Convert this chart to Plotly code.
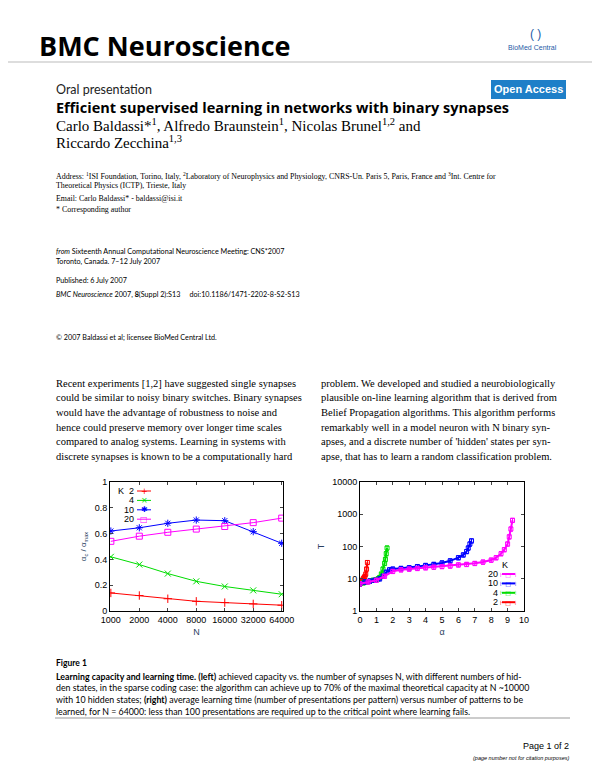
import plotly.graph_objects as go

W, H = 600, 776
OFF = 8  # page body margin in the browser
def X(px): return (px - OFF) / W
def Y(py): return 1 - (py - OFF) / H

# ---- left chart data ----
N_vals = [1000, 2000, 4000, 8000, 16000, 32000, 64000]
N_labels = ["1000", "2000", "4000", "8000", "16000", "32000", "64000"]
cap_k2 = [0.14, 0.12, 0.095, 0.075, 0.065, 0.055, 0.045]
cap_k4 = [0.42, 0.36, 0.29, 0.23, 0.19, 0.16, 0.13]
cap_k10 = [0.62, 0.645, 0.68, 0.705, 0.70, 0.615, 0.525]
cap_k20 = [0.54, 0.58, 0.61, 0.635, 0.655, 0.685, 0.72]

# ---- right chart data ----
a_k2 = [0, 0.05, 0.1, 0.15, 0.2, 0.25, 0.3, 0.35, 0.4, 0.45]
t_k2 = [7, 7.5, 8, 9, 10, 11, 12, 14, 20, 32]
a_k4 = [0, 0.2, 0.4, 0.6, 0.8, 1.0, 1.1, 1.2, 1.3, 1.4, 1.5, 1.55, 1.6, 1.65]
t_k4 = [7, 7.5, 8, 8.5, 9, 9.5, 10, 11, 14, 20, 30, 40, 60, 90]
a_k10 = [0, 0.3, 0.6, 0.9, 1.2, 1.4, 1.6, 1.8, 2.0, 2.5, 3.0, 3.5, 4.0, 4.5, 5.0, 5.5, 6.0, 6.3, 6.5, 6.6, 6.7, 6.8]
t_k10 = [7, 8, 8.5, 9, 10, 12, 16, 19, 20, 21, 22, 24, 26, 28, 31, 36, 45, 55, 70, 90, 120, 150]
a_k20 = [0, 0.5, 1.0, 1.5, 2.0, 2.5, 3, 3.5, 4, 4.5, 5, 5.5, 6, 6.5, 7, 7.5, 8, 8.3, 8.6, 8.8, 9.0, 9.1, 9.2, 9.3]
t_k20 = [7, 8, 9, 12, 17, 19, 20, 21, 22, 23, 24, 25, 27, 28, 30, 33, 38, 45, 60, 80, 120, 200, 350, 650]

K_labels = ["2", "4", "10", "20"]
RED, GREEN, BLUE, MAG = "#ff0000", "#00dd00", "#0000ff", "#ff00ff"
COLS = [RED, GREEN, BLUE, MAG]
LEFT_SYMS = ["cross-thin-open", "x-thin-open", "asterisk-open", "square-open"]
LEFT_GLYPHS = ["+", "×", "✱", "□"]

fig = go.Figure()
for lab, ys, col, sym in zip(K_labels, [cap_k2, cap_k4, cap_k10, cap_k20], COLS, LEFT_SYMS):
    fig.add_trace(go.Scatter(x=N_vals, y=ys, name=lab, mode="lines+markers", xaxis="x", yaxis="y",
                             line=dict(color=col, width=1), showlegend=False,
                             marker=dict(symbol=sym, size=6, color=col, line=dict(color=col, width=1))))
for lab, xs, ys, col in zip(K_labels, [a_k2, a_k4, a_k10, a_k20], [t_k2, t_k4, t_k10, t_k20], COLS):
    fig.add_trace(go.Scatter(x=xs, y=ys, name=lab, mode="lines+markers", xaxis="x2", yaxis="y2",
                             line=dict(color=col, width=2), showlegend=False,
                             marker=dict(symbol="square-open", size=4, color=col),
                             error_y=dict(type="percent", value=15, color=col, thickness=1, width=2)))

tickf = dict(family="Liberation Sans", size=9, color="#000")
common = dict(showline=True, mirror="ticks", linecolor="#000", linewidth=1, ticks="inside",
              ticklen=3, tickfont=tickf, showgrid=False, zeroline=False)
fig.update_layout(
    width=W, height=H, margin=dict(l=0, r=0, t=0, b=0, autoexpand=False),
    plot_bgcolor="white", paper_bgcolor="white", showlegend=False,
    xaxis=dict(domain=[X(110), X(283)], type="log", range=[2.991, 4.82], tickvals=N_vals, ticktext=N_labels,
               title=dict(text="N", font=dict(family="Liberation Sans", size=9), standoff=4), anchor="y", **common),
    yaxis=dict(domain=[Y(611), Y(482)], range=[0, 1], tickvals=[0, 0.2, 0.4, 0.6, 0.8, 1],
               ticktext=["0", "0.2", "0.4", "0.6", "0.8", "1"],
               title=dict(text="α<sub>c</sub> / α<sub>max</sub>", font=dict(family="Liberation Sans", size=8), standoff=6),
               anchor="x", **common),
    xaxis2=dict(domain=[X(360), X(524)], range=[0, 10], dtick=1,
                title=dict(text="α", font=dict(family="Liberation Sans", size=9), standoff=4), anchor="y2", **common),
    yaxis2=dict(domain=[Y(611), Y(482)], type="log", range=[0, 4], tickvals=[1, 10, 100, 1000, 10000],
                ticktext=["1", "10", "100", "1000", "10000"],
                title=dict(text="T", font=dict(family="Liberation Sans", size=9), standoff=6), anchor="x2", **common),
)

SANS = "Lato"
SERIF = "Liberation Serif"
ann = []
shapes = []
def T(text, x, y, size, family=SANS, anchor="left", color="#000", bold=False):
    if bold:
        text = "<b>" + text + "</b>"
    ann.append(dict(text=text, x=X(x), y=Y(y), xref="paper", yref="paper", xanchor=anchor, yanchor="middle",
                    showarrow=False, borderpad=0, font=dict(family=family, size=size, color=color)))

# hand-built compact legends (gnuplot style: label, then sample)
T("K", 117, 491, 9, "Liberation Sans")
for i, (lab, col, g) in enumerate(zip(K_labels, COLS, LEFT_GLYPHS)):
    yy = 491 + i * 9.4
    T(lab, 135, yy, 9, "Liberation Sans", anchor="right")
    shapes.append(dict(type="line", xref="paper", yref="paper", x0=X(137), x1=X(151), y0=Y(yy), y1=Y(yy),
                       line=dict(color=col, width=1)))
    T(g, 144, yy, 8, "DejaVu Sans", anchor="center", color=col)
T("K", 501, 565, 9, "Liberation Sans")
for i, (lab, col) in enumerate(zip(K_labels[::-1], COLS[::-1])):
    yy = 574 + i * 9.4
    T(lab, 499, yy, 9, "Liberation Sans", anchor="right")
    shapes.append(dict(type="line", xref="paper", yref="paper", x0=X(502), x1=X(515), y0=Y(yy), y1=Y(yy),
                       line=dict(color=col, width=2)))
    T("⊢□⊣", 508.5, yy, 6, "DejaVu Sans", anchor="center", color=col)

T("BMC Neuroscience", 38, 45, 27, "Open Sans", bold=True)
T("BioMed Central", 532, 47, 7, "Liberation Sans", anchor="center", color="#1d5aa6")
T("( )", 535, 34, 12, "Liberation Sans", anchor="center", color="#1d5aa6")
T("Oral presentation", 55, 90, 12.5, SANS, color="#222")
T("Open Access", 528, 89, 11, "Liberation Sans", anchor="center", color="white", bold=True)
T("Efficient supervised learning in networks with binary synapses", 55, 108, 14.5, "Open Sans", bold=True)
T("Carlo Baldassi*<sup>1</sup>, Alfredo Braunstein<sup>1</sup>, Nicolas Brunel<sup>1,2</sup> and", 55, 125, 15, SERIF)
T("Riccardo Zecchina<sup>1,3</sup>", 55, 142, 15, SERIF)
T("Address: <sup>1</sup>ISI Foundation, Torino, Italy, <sup>2</sup>Laboratory of Neurophysics and Physiology, CNRS-Un. Paris 5, Paris, France and <sup>3</sup>Int. Centre for", 55, 176, 7.9, SERIF)
T("Theoretical Physics (ICTP), Trieste, Italy", 55, 186, 7.9, SERIF)
T("Email: Carlo Baldassi* - baldassi@isi.it", 55, 198, 7.9, SERIF)
T("* Corresponding author", 55, 210, 7.9, SERIF)
T("<i>from</i> Sixteenth Annual Computational Neuroscience Meeting: CNS*2007", 55, 251, 7.2, SANS)
T("Toronto, Canada. 7–12 July 2007", 55, 262, 7.2, SANS)
T("Published: 6 July 2007", 55, 280, 7.2, SANS)
T("<i>BMC Neuroscience</i> 2007, <b>8</b>(Suppl 2):S13     doi:10.1186/1471-2202-8-S2-S13", 55, 294, 7.2, SANS)
T("© 2007 Baldassi et al; licensee BioMed Central Ltd.", 55, 337, 7.2, SANS)

left_lines = ["Recent experiments [1,2] have suggested single synapses",
              "could be similar to noisy binary switches. Binary synapses",
              "would have the advantage of robustness to noise and",
              "hence could preserve memory over longer time scales",
              "compared to analog systems. Learning in systems with",
              "discrete synapses is known to be a computationally hard"]
right_lines = ["problem. We developed and studied a neurobiologically",
               "plausible on-line learning algorithm that is derived from",
               "Belief Propagation algorithms. This algorithm performs",
               "remarkably well in a model neuron with N binary syn-",
               "apses, and a discrete number of 'hidden' states per syn-",
               "apse, that has to learn a random classification problem."]
for i, (l, r) in enumerate(zip(left_lines, right_lines)):
    T(l, 55, 383 + i * 14.7, 10.5, SERIF)
    T(r, 320, 383 + i * 14.7, 10.5, SERIF)

T("Figure 1", 55, 663, 8.5, SANS, bold=True)
cap = ["<b>Learning capacity and learning time. (left)</b> achieved capacity vs. the number of synapses N, with different numbers of hid-",
       "den states, in the sparse coding case: the algorithm can achieve up to 70% of the maximal theoretical capacity at N ~10000",
       "with 10 hidden states; <b>(right)</b> average learning time (number of presentations per pattern) versus number of patterns to be",
       "learned, for N = 64000: less than 100 presentations are required up to the critical point where learning fails."]
for i, c in enumerate(cap):
    T(c, 55, 676 + i * 11.7, 8.8, SANS)
T("Page 1 of 2", 570, 746, 9, "Liberation Sans", anchor="right")
T("<i>(page number not for citation purposes)</i>", 570, 758, 5.5, "Liberation Sans", anchor="right")

shapes += [
    dict(type="line", xref="paper", yref="paper", x0=X(8), x1=1, y0=Y(62), y1=Y(62), line=dict(color="#bbb", width=1)),
    dict(type="rect", xref="paper", yref="paper", x0=X(491), x1=X(566), y0=Y(99), y1=Y(80),
         fillcolor="#1e7fc8", line=dict(width=0), layer="below"),
    dict(type="line", xref="paper", yref="paper", x0=X(55), x1=X(570), y0=Y(718), y1=Y(718), line=dict(color="#bbb", width=1.5)),
]
fig.update_layout(annotations=ann, shapes=shapes)
fig.write_html("out.html")
